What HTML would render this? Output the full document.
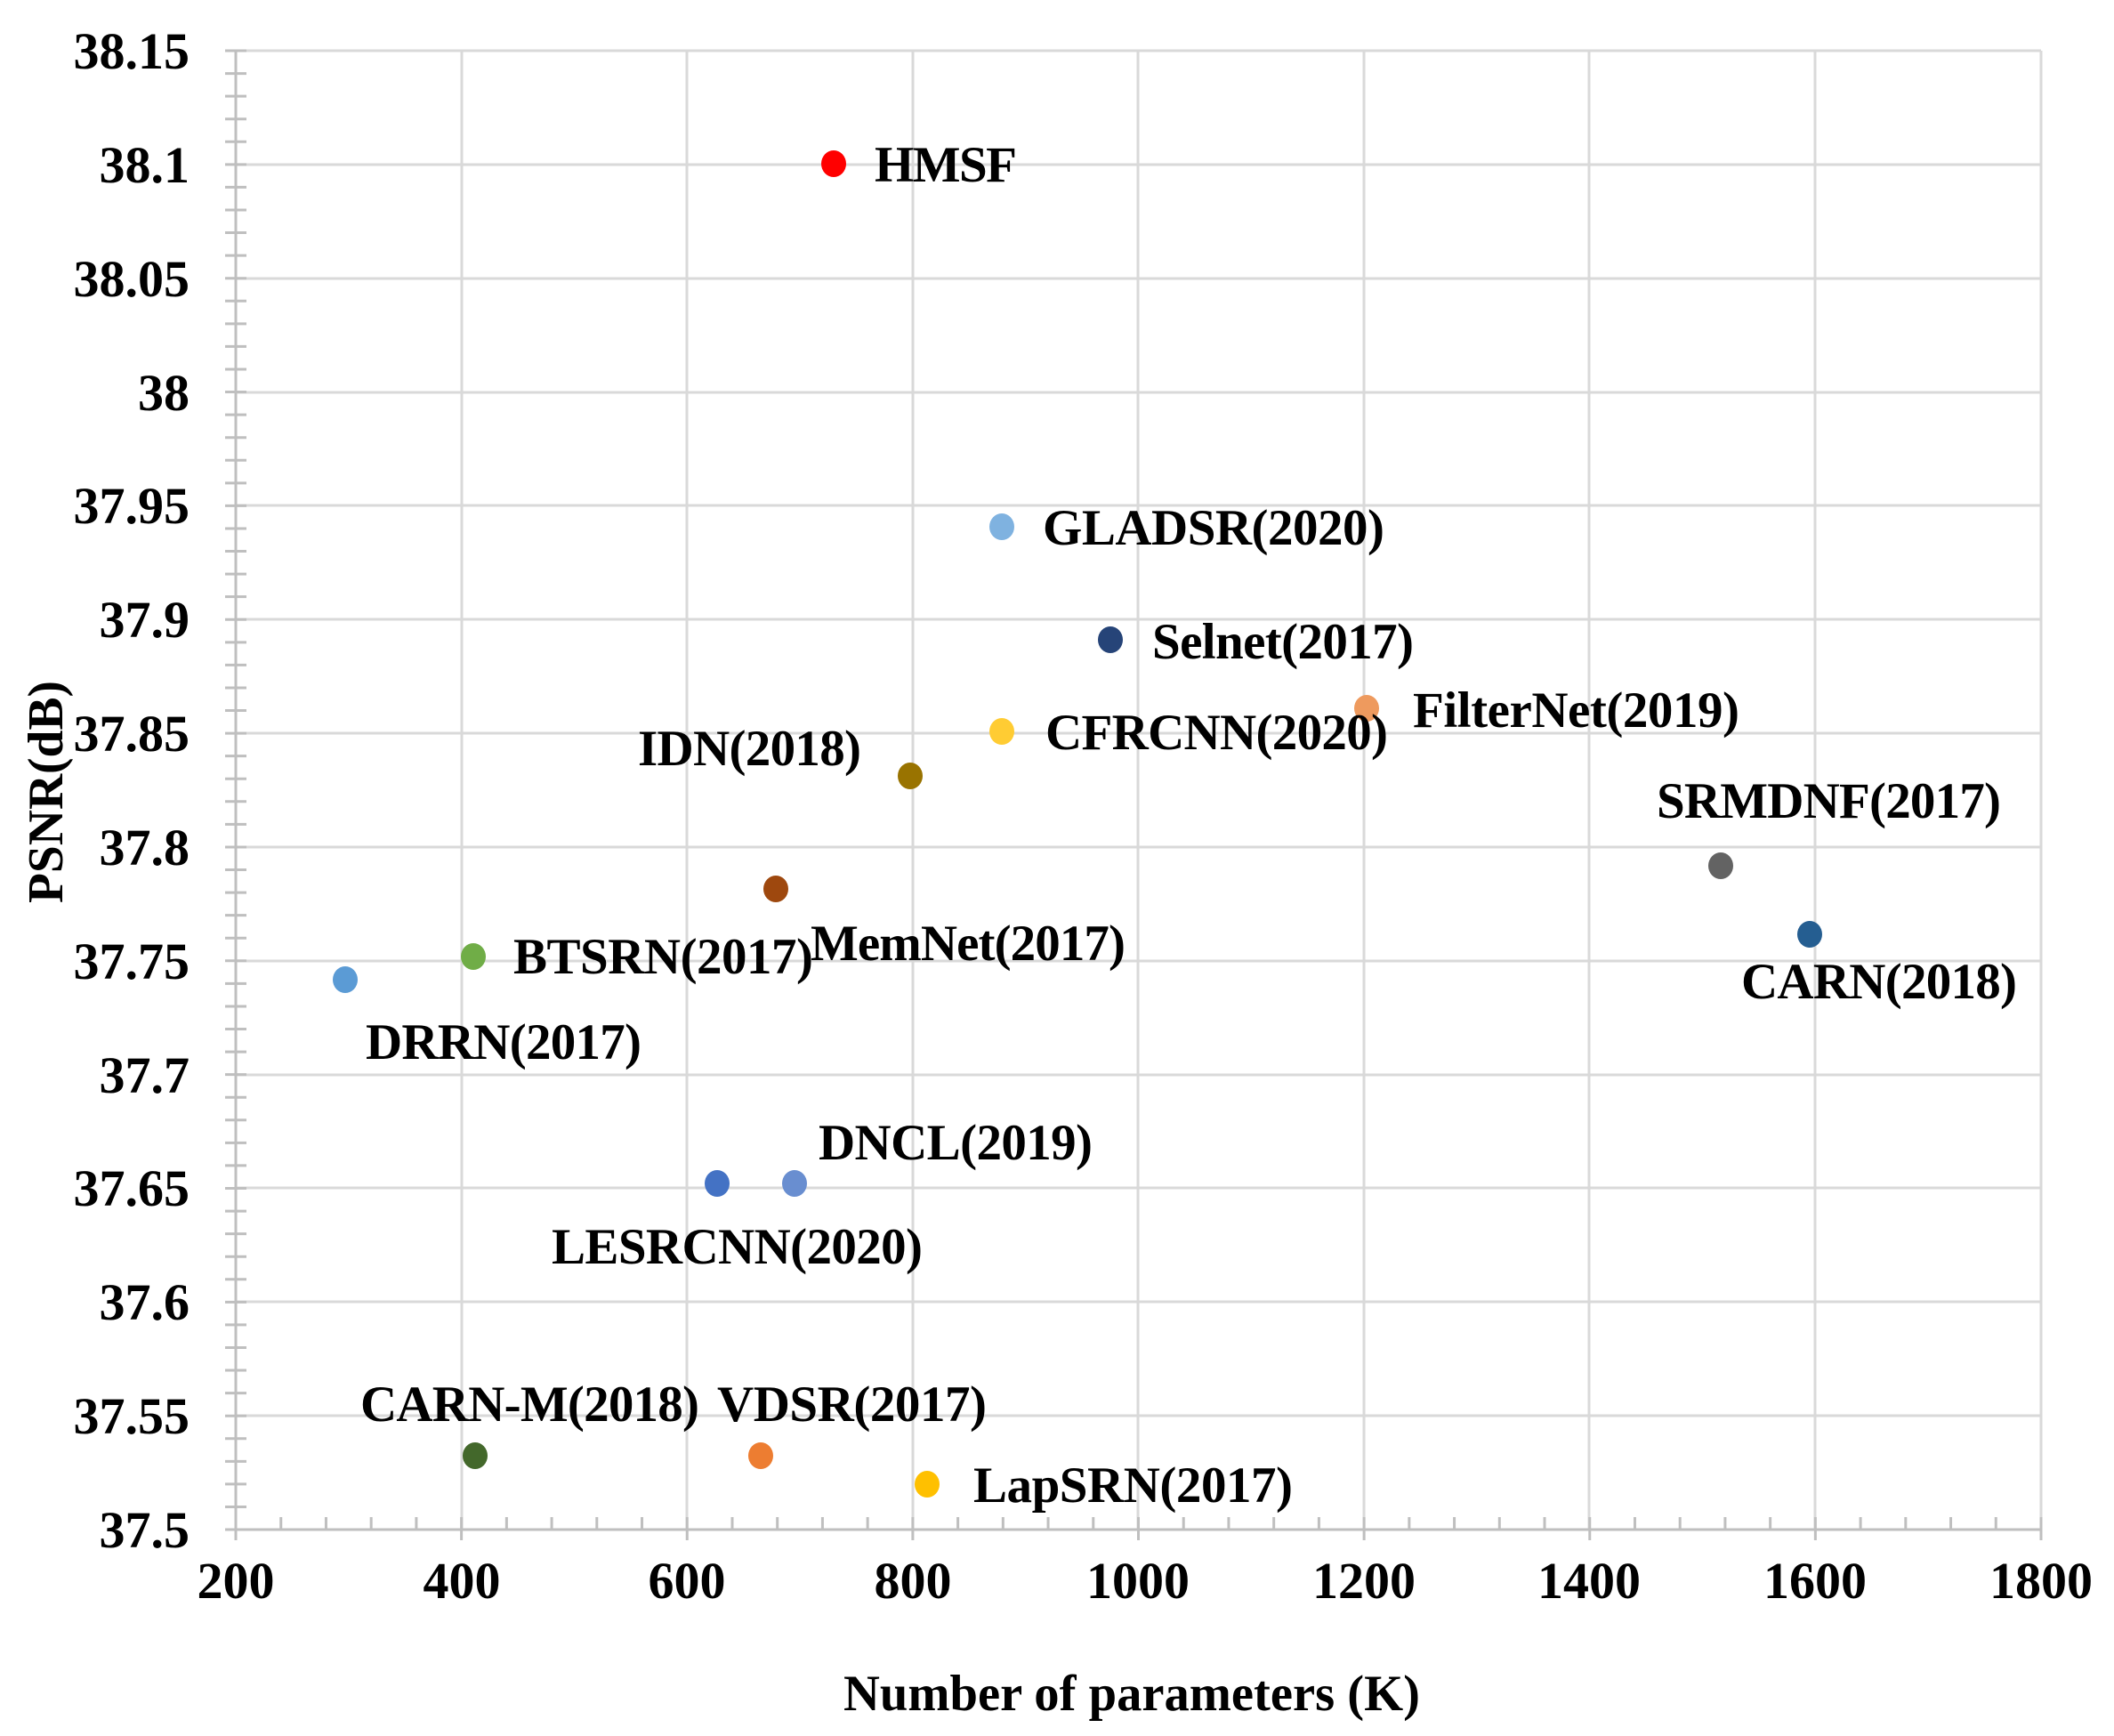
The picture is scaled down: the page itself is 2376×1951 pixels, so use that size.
<!DOCTYPE html>
<html><head><meta charset="utf-8"><style>
html,body{margin:0;padding:0;background:#fff;}
svg{display:block;}
text{font-family:"Liberation Serif",serif;font-weight:bold;fill:#000;}
</style></head><body>
<svg width="2376" height="1951" viewBox="0 0 2376 1951" xmlns="http://www.w3.org/2000/svg">
<rect width="2376" height="1951" fill="#fff"/>
<g stroke="#d9d9d9" stroke-width="3">
<line x1="265" y1="57" x2="2294" y2="57"/>
<line x1="265" y1="185" x2="2294" y2="185"/>
<line x1="265" y1="313" x2="2294" y2="313"/>
<line x1="265" y1="441" x2="2294" y2="441"/>
<line x1="265" y1="568" x2="2294" y2="568"/>
<line x1="265" y1="696" x2="2294" y2="696"/>
<line x1="265" y1="824" x2="2294" y2="824"/>
<line x1="265" y1="952" x2="2294" y2="952"/>
<line x1="265" y1="1080" x2="2294" y2="1080"/>
<line x1="265" y1="1208" x2="2294" y2="1208"/>
<line x1="265" y1="1335" x2="2294" y2="1335"/>
<line x1="265" y1="1463" x2="2294" y2="1463"/>
<line x1="265" y1="1591" x2="2294" y2="1591"/>
<line x1="519" y1="57" x2="519" y2="1719"/>
<line x1="772" y1="57" x2="772" y2="1719"/>
<line x1="1026" y1="57" x2="1026" y2="1719"/>
<line x1="1279" y1="57" x2="1279" y2="1719"/>
<line x1="1533" y1="57" x2="1533" y2="1719"/>
<line x1="1786" y1="57" x2="1786" y2="1719"/>
<line x1="2040" y1="57" x2="2040" y2="1719"/>
<line x1="2294" y1="57" x2="2294" y2="1719"/>
</g>
<g stroke="#bfbfbf">
<line x1="265" y1="55.5" x2="265" y2="1721" stroke-width="24" stroke-dasharray="3 22.57"/>
<line x1="263.5" y1="1712" x2="2296" y2="1712" stroke-width="14" stroke-dasharray="3 47.725"/>
<line x1="263.5" y1="1725" x2="2296" y2="1725" stroke-width="12" stroke-dasharray="3 250.625"/>
<line x1="265" y1="57" x2="265" y2="1719" stroke-width="3"/>
<line x1="253" y1="1719" x2="2294" y2="1719" stroke-width="3"/>
</g>
<g font-size="58" text-anchor="end">
<text x="213" y="77">38.15</text>
<text x="213" y="205">38.1</text>
<text x="213" y="333">38.05</text>
<text x="213" y="461">38</text>
<text x="213" y="588">37.95</text>
<text x="213" y="716">37.9</text>
<text x="213" y="844">37.85</text>
<text x="213" y="972">37.8</text>
<text x="213" y="1100">37.75</text>
<text x="213" y="1228">37.7</text>
<text x="213" y="1355">37.65</text>
<text x="213" y="1483">37.6</text>
<text x="213" y="1611">37.55</text>
<text x="213" y="1739">37.5</text>
</g>
<g font-size="58" text-anchor="middle">
<text x="265" y="1796">200</text>
<text x="519" y="1796">400</text>
<text x="772" y="1796">600</text>
<text x="1026" y="1796">800</text>
<text x="1279" y="1796">1000</text>
<text x="1533" y="1796">1200</text>
<text x="1786" y="1796">1400</text>
<text x="2040" y="1796">1600</text>
<text x="2294" y="1796">1800</text>
</g>
<text x="948" y="1922" font-size="57" textLength="648" lengthAdjust="spacingAndGlyphs">Number of parameters (K)</text>
<text transform="translate(70,1015) rotate(-90)" font-size="56" textLength="250" lengthAdjust="spacingAndGlyphs">PSNR(dB)</text>
<g>
<ellipse cx="937" cy="184" rx="14" ry="15" fill="#ff0000"/>
<ellipse cx="1126" cy="592" rx="14" ry="15" fill="#7fb2e0"/>
<ellipse cx="1248" cy="719" rx="14" ry="15" fill="#264478"/>
<ellipse cx="1126" cy="822" rx="14" ry="15" fill="#ffcc33"/>
<ellipse cx="1536" cy="796" rx="14" ry="15" fill="#ee9a5e"/>
<ellipse cx="1023" cy="872" rx="14" ry="15" fill="#997300"/>
<ellipse cx="872" cy="999" rx="14" ry="15" fill="#9e480e"/>
<ellipse cx="532" cy="1075" rx="14" ry="15" fill="#70ad47"/>
<ellipse cx="388" cy="1101" rx="14" ry="15" fill="#5b9bd5"/>
<ellipse cx="806" cy="1330" rx="14" ry="15" fill="#4472c4"/>
<ellipse cx="893" cy="1330" rx="14" ry="15" fill="#698ed0"/>
<ellipse cx="1934" cy="973" rx="14" ry="15" fill="#636363"/>
<ellipse cx="2034" cy="1050" rx="14" ry="15" fill="#255e91"/>
<ellipse cx="534" cy="1636" rx="14" ry="15" fill="#43682b"/>
<ellipse cx="855" cy="1636" rx="14" ry="15" fill="#ed7d31"/>
<ellipse cx="1042" cy="1668" rx="14" ry="15" fill="#ffc000"/>
</g>
<g font-size="57" lengthAdjust="spacingAndGlyphs">
<text x="983" y="204" textLength="160">HMSF</text>
<text x="1172" y="612" textLength="384">GLADSR(2020)</text>
<text x="1295" y="740" textLength="294">Selnet(2017)</text>
<text x="1175" y="842" textLength="385">CFRCNN(2020)</text>
<text x="1588" y="817" textLength="367">FilterNet(2019)</text>
<text x="717" y="860" textLength="251">IDN(2018)</text>
<text x="911" y="1079" textLength="354">MemNet(2017)</text>
<text x="577" y="1094" textLength="337">BTSRN(2017)</text>
<text x="411" y="1190" textLength="310">DRRN(2017)</text>
<text x="920" y="1303" textLength="308">DNCL(2019)</text>
<text x="620" y="1420" textLength="417">LESRCNN(2020)</text>
<text x="1862" y="919" textLength="387">SRMDNF(2017)</text>
<text x="1957" y="1122" textLength="310">CARN(2018)</text>
<text x="405" y="1597" textLength="381">CARN-M(2018)</text>
<text x="806" y="1597" textLength="303">VDSR(2017)</text>
<text x="1094" y="1688" textLength="359">LapSRN(2017)</text>
</g>
</svg>
</body></html>
